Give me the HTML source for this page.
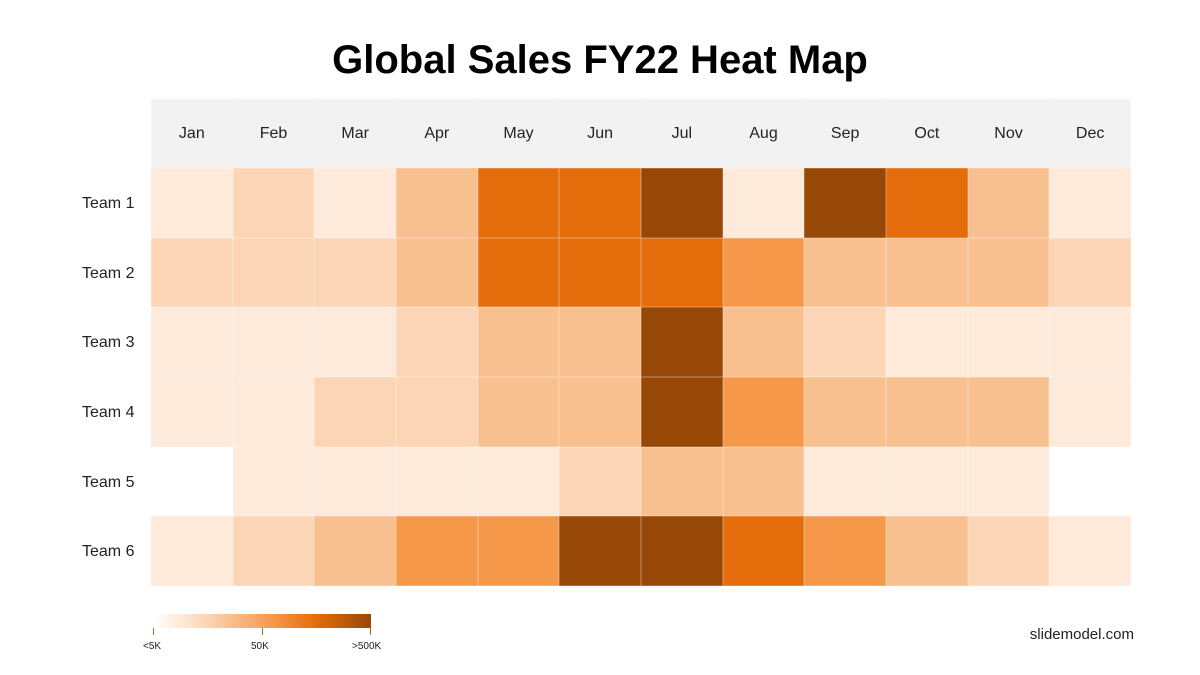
<!DOCTYPE html>
<html><head><meta charset="utf-8"><style>
body{margin:0;width:1200px;height:675px;background:#fff;font-family:"Liberation Sans",sans-serif;position:relative;overflow:hidden}
.t{position:absolute;top:38px;left:0;width:1200px;text-align:center;font-size:40px;font-weight:bold;color:#000}
.g{position:absolute;left:151px;top:99px;width:980px;height:487px;display:grid;grid-template-columns:repeat(12,1fr);grid-template-rows:69px repeat(6,1fr)}
.g div{box-shadow:inset 0 0 0 0.5px rgba(255,255,255,0.4);display:flex;align-items:center;justify-content:center;font-size:16px;color:#222}
.h{background:#f2f2f2}
.r{position:absolute;left:82px;font-size:16px;color:#222}
.c0{background:#fff}.c1{background:#fdeadb}.c2{background:#fbd5b5}.c3{background:#f9c08f}.c4{background:#f6984a}.c5{background:#e46c0a}.c6{background:#984806}
</style></head><body>
<div class="t">Global Sales FY22 Heat Map</div>
<div class="g">
<div class="h">Jan</div><div class="h">Feb</div><div class="h">Mar</div><div class="h">Apr</div><div class="h">May</div><div class="h">Jun</div><div class="h">Jul</div><div class="h">Aug</div><div class="h">Sep</div><div class="h">Oct</div><div class="h">Nov</div><div class="h">Dec</div>
<div class="c1"></div><div class="c2"></div><div class="c1"></div><div class="c3"></div><div class="c5"></div><div class="c5"></div><div class="c6"></div><div class="c1"></div><div class="c6"></div><div class="c5"></div><div class="c3"></div><div class="c1"></div>
<div class="c2"></div><div class="c2"></div><div class="c2"></div><div class="c3"></div><div class="c5"></div><div class="c5"></div><div class="c5"></div><div class="c4"></div><div class="c3"></div><div class="c3"></div><div class="c3"></div><div class="c2"></div>
<div class="c1"></div><div class="c1"></div><div class="c1"></div><div class="c2"></div><div class="c3"></div><div class="c3"></div><div class="c6"></div><div class="c3"></div><div class="c2"></div><div class="c1"></div><div class="c1"></div><div class="c1"></div>
<div class="c1"></div><div class="c1"></div><div class="c2"></div><div class="c2"></div><div class="c3"></div><div class="c3"></div><div class="c6"></div><div class="c4"></div><div class="c3"></div><div class="c3"></div><div class="c3"></div><div class="c1"></div>
<div class="c0"></div><div class="c1"></div><div class="c1"></div><div class="c1"></div><div class="c1"></div><div class="c2"></div><div class="c3"></div><div class="c3"></div><div class="c1"></div><div class="c1"></div><div class="c1"></div><div class="c0"></div>
<div class="c1"></div><div class="c2"></div><div class="c3"></div><div class="c4"></div><div class="c4"></div><div class="c6"></div><div class="c6"></div><div class="c5"></div><div class="c4"></div><div class="c3"></div><div class="c2"></div><div class="c1"></div>
</div>
<div class="r" style="top:195px">Team 1</div>
<div class="r" style="top:265px">Team 2</div>
<div class="r" style="top:334px">Team 3</div>
<div class="r" style="top:404px">Team 4</div>
<div class="r" style="top:474px">Team 5</div>
<div class="r" style="top:543px">Team 6</div>
<div style="position:absolute;left:153px;top:614px;width:218px;height:14px;background:linear-gradient(to right,#fff,#fbd5b5 25%,#f6984a 55%,#e46c0a 75%,#984806)"></div>
<div style="position:absolute;left:153px;top:628px;width:1px;height:7px;background:#c0600a"></div>
<div style="position:absolute;left:262px;top:628px;width:1px;height:7px;background:#c0600a"></div>
<div style="position:absolute;left:370px;top:628px;width:1px;height:7px;background:#c0600a"></div>
<div style="position:absolute;left:143px;top:641px;font-size:10px;color:#222">&lt;5K</div>
<div style="position:absolute;left:251px;top:641px;font-size:10px;color:#222">50K</div>
<div style="position:absolute;left:352px;top:641px;font-size:10px;color:#222">&gt;500K</div>
<div style="position:absolute;right:66px;top:626px;font-size:15px;color:#222">slidemodel.com</div>
</body></html>
